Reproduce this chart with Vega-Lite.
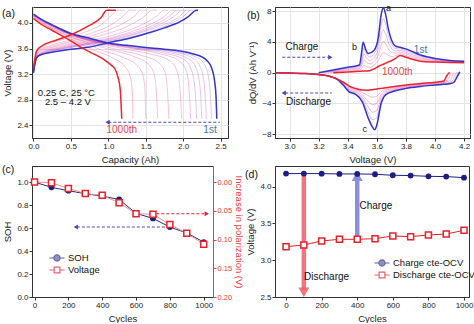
{
  "$schema": "https://vega.github.io/schema/vega-lite/v6.json",
  "padding": {"left": 1, "top": 3, "right": 0, "bottom": 0},
  "autosize": {"type": "pad"},
  "columns": 2,
  "spacing": {"row": 28, "column": 47},
  "bounds": "flush",
  "resolve": {
    "scale": {"color": "independent", "shape": "independent", "fill": "independent", "stroke": "independent"},
    "legend": {"color": "independent", "shape": "independent", "fill": "independent", "stroke": "independent"}
  },
  "datasets": {
    "cap": [
      {"n":0,"m":"d","q":0,"v":4.14},{"n":0,"m":"d","q":0.1,"v":4.06},{"n":0,"m":"d","q":0.25,"v":3.97},{"n":0,"m":"d","q":0.49,"v":3.84},{"n":0,"m":"d","q":0.75,"v":3.76},{"n":0,"m":"d","q":0.98,"v":3.69},{"n":0,"m":"d","q":1.25,"v":3.65},{"n":0,"m":"d","q":1.47,"v":3.62},{"n":0,"m":"d","q":1.75,"v":3.59},{"n":0,"m":"d","q":1.96,"v":3.56},{"n":0,"m":"d","q":2.15,"v":3.51},{"n":0,"m":"d","q":2.25,"v":3.47},{"n":0,"m":"d","q":2.32,"v":3.41},{"n":0,"m":"d","q":2.38,"v":3.3},{"n":0,"m":"d","q":2.42,"v":3.1},{"n":0,"m":"d","q":2.44,"v":2.85},{"n":0,"m":"d","q":2.45,"v":2.5},
      {"n":0,"m":"c","q":0,"v":3.22},{"n":0,"m":"c","q":0.03,"v":3.42},{"n":0,"m":"c","q":0.06,"v":3.48},{"n":0,"m":"c","q":0.15,"v":3.52},{"n":0,"m":"c","q":0.28,"v":3.55},{"n":0,"m":"c","q":0.5,"v":3.59},{"n":0,"m":"c","q":0.73,"v":3.62},{"n":0,"m":"c","q":1.0,"v":3.69},{"n":0,"m":"c","q":1.31,"v":3.77},{"n":0,"m":"c","q":1.5,"v":3.83},{"n":0,"m":"c","q":1.74,"v":3.92},{"n":0,"m":"c","q":1.96,"v":4.02},{"n":0,"m":"c","q":2.07,"v":4.1},{"n":0,"m":"c","q":2.18,"v":4.2},{"n":0,"m":"c","q":2.2,"v":4.2},
      {"n":1,"m":"d","q":0,"v":4.13},{"n":1,"m":"d","q":0.48,"v":3.84},{"n":1,"m":"d","q":0.95,"v":3.69},{"n":1,"m":"d","q":1.43,"v":3.62},{"n":1,"m":"d","q":1.9,"v":3.55},{"n":1,"m":"d","q":2.19,"v":3.46},{"n":1,"m":"d","q":2.31,"v":3.29},{"n":1,"m":"d","q":2.36,"v":2.95},{"n":1,"m":"d","q":2.38,"v":2.5},
      {"n":2,"m":"d","q":0,"v":4.12},{"n":2,"m":"d","q":0.46,"v":3.85},{"n":2,"m":"d","q":0.92,"v":3.7},{"n":2,"m":"d","q":1.39,"v":3.61},{"n":2,"m":"d","q":1.85,"v":3.55},{"n":2,"m":"d","q":2.13,"v":3.45},{"n":2,"m":"d","q":2.24,"v":3.28},{"n":2,"m":"d","q":2.29,"v":2.95},{"n":2,"m":"d","q":2.31,"v":2.5},
      {"n":3,"m":"d","q":0,"v":4.12},{"n":3,"m":"d","q":0.45,"v":3.85},{"n":3,"m":"d","q":0.9,"v":3.7},{"n":3,"m":"d","q":1.35,"v":3.61},{"n":3,"m":"d","q":1.8,"v":3.54},{"n":3,"m":"d","q":2.07,"v":3.44},{"n":3,"m":"d","q":2.18,"v":3.28},{"n":3,"m":"d","q":2.23,"v":2.95},{"n":3,"m":"d","q":2.25,"v":2.5},
      {"n":4,"m":"d","q":0,"v":4.11},{"n":4,"m":"d","q":0.44,"v":3.85},{"n":4,"m":"d","q":0.87,"v":3.7},{"n":4,"m":"d","q":1.31,"v":3.61},{"n":4,"m":"d","q":1.74,"v":3.53},{"n":4,"m":"d","q":2.01,"v":3.43},{"n":4,"m":"d","q":2.11,"v":3.27},{"n":4,"m":"d","q":2.16,"v":2.95},{"n":4,"m":"d","q":2.18,"v":2.5},
      {"n":5,"m":"d","q":0,"v":4.11},{"n":5,"m":"d","q":0.42,"v":3.85},{"n":5,"m":"d","q":0.84,"v":3.7},{"n":5,"m":"d","q":1.26,"v":3.61},{"n":5,"m":"d","q":1.68,"v":3.52},{"n":5,"m":"d","q":1.93,"v":3.42},{"n":5,"m":"d","q":2.04,"v":3.26},{"n":5,"m":"d","q":2.08,"v":2.95},{"n":5,"m":"d","q":2.1,"v":2.5},
      {"n":6,"m":"d","q":0,"v":4.1},{"n":6,"m":"d","q":0.4,"v":3.86},{"n":6,"m":"d","q":0.79,"v":3.71},{"n":6,"m":"d","q":1.19,"v":3.6},{"n":6,"m":"d","q":1.58,"v":3.51},{"n":6,"m":"d","q":1.82,"v":3.41},{"n":6,"m":"d","q":1.92,"v":3.24},{"n":6,"m":"d","q":1.96,"v":2.95},{"n":6,"m":"d","q":1.98,"v":2.5},
      {"n":7,"m":"d","q":0,"v":4.09},{"n":7,"m":"d","q":0.36,"v":3.87},{"n":7,"m":"d","q":0.72,"v":3.72},{"n":7,"m":"d","q":1.09,"v":3.59},{"n":7,"m":"d","q":1.45,"v":3.49},{"n":7,"m":"d","q":1.67,"v":3.38},{"n":7,"m":"d","q":1.76,"v":3.22},{"n":7,"m":"d","q":1.79,"v":2.95},{"n":7,"m":"d","q":1.81,"v":2.5},
      {"n":8,"m":"d","q":0,"v":4.08},{"n":8,"m":"d","q":0.33,"v":3.87},{"n":8,"m":"d","q":0.66,"v":3.72},{"n":8,"m":"d","q":1.0,"v":3.59},{"n":8,"m":"d","q":1.33,"v":3.48},{"n":8,"m":"d","q":1.53,"v":3.36},{"n":8,"m":"d","q":1.61,"v":3.21},{"n":8,"m":"d","q":1.64,"v":2.95},{"n":8,"m":"d","q":1.66,"v":2.5},
      {"n":9,"m":"d","q":0,"v":4.07},{"n":9,"m":"d","q":0.3,"v":3.88},{"n":9,"m":"d","q":0.6,"v":3.73},{"n":9,"m":"d","q":0.9,"v":3.58},{"n":9,"m":"d","q":1.2,"v":3.46},{"n":9,"m":"d","q":1.38,"v":3.34},{"n":9,"m":"d","q":1.46,"v":3.19},{"n":9,"m":"d","q":1.49,"v":2.95},{"n":9,"m":"d","q":1.5,"v":2.5},
      {"n":10,"m":"d","q":0,"v":4.06},{"n":10,"m":"d","q":0.27,"v":3.88},{"n":10,"m":"d","q":0.53,"v":3.73},{"n":10,"m":"d","q":0.8,"v":3.58},{"n":10,"m":"d","q":1.06,"v":3.45},{"n":10,"m":"d","q":1.22,"v":3.32},{"n":10,"m":"d","q":1.29,"v":3.17},{"n":10,"m":"d","q":1.32,"v":2.95},{"n":10,"m":"d","q":1.33,"v":2.5},
      {"n":1,"m":"c","q":0,"v":3.22},{"n":1,"m":"c","q":0.04,"v":3.45},{"n":1,"m":"c","q":0.11,"v":3.5},{"n":1,"m":"c","q":0.42,"v":3.6},{"n":1,"m":"c","q":0.84,"v":3.68},{"n":1,"m":"c","q":1.27,"v":3.77},{"n":1,"m":"c","q":1.69,"v":3.92},{"n":1,"m":"c","q":2.0,"v":4.1},{"n":1,"m":"c","q":2.11,"v":4.2},{"n":1,"m":"c","q":2.14,"v":4.2},
      {"n":2,"m":"c","q":0,"v":3.23},{"n":2,"m":"c","q":0.04,"v":3.45},{"n":2,"m":"c","q":0.1,"v":3.51},{"n":2,"m":"c","q":0.41,"v":3.6},{"n":2,"m":"c","q":0.82,"v":3.68},{"n":2,"m":"c","q":1.23,"v":3.78},{"n":2,"m":"c","q":1.64,"v":3.93},{"n":2,"m":"c","q":1.95,"v":4.1},{"n":2,"m":"c","q":2.05,"v":4.2},{"n":2,"m":"c","q":2.09,"v":4.2},
      {"n":3,"m":"c","q":0,"v":3.23},{"n":3,"m":"c","q":0.04,"v":3.45},{"n":3,"m":"c","q":0.1,"v":3.51},{"n":3,"m":"c","q":0.4,"v":3.61},{"n":3,"m":"c","q":0.8,"v":3.69},{"n":3,"m":"c","q":1.19,"v":3.78},{"n":3,"m":"c","q":1.59,"v":3.93},{"n":3,"m":"c","q":1.89,"v":4.11},{"n":3,"m":"c","q":1.99,"v":4.2},{"n":3,"m":"c","q":2.03,"v":4.2},
      {"n":4,"m":"c","q":0,"v":3.24},{"n":4,"m":"c","q":0.04,"v":3.45},{"n":4,"m":"c","q":0.1,"v":3.52},{"n":4,"m":"c","q":0.38,"v":3.61},{"n":4,"m":"c","q":0.77,"v":3.69},{"n":4,"m":"c","q":1.15,"v":3.79},{"n":4,"m":"c","q":1.54,"v":3.93},{"n":4,"m":"c","q":1.82,"v":4.11},{"n":4,"m":"c","q":1.92,"v":4.2},{"n":4,"m":"c","q":1.96,"v":4.2},
      {"n":5,"m":"c","q":0,"v":3.24},{"n":5,"m":"c","q":0.04,"v":3.45},{"n":5,"m":"c","q":0.09,"v":3.52},{"n":5,"m":"c","q":0.37,"v":3.62},{"n":5,"m":"c","q":0.74,"v":3.7},{"n":5,"m":"c","q":1.11,"v":3.79},{"n":5,"m":"c","q":1.48,"v":3.94},{"n":5,"m":"c","q":1.76,"v":4.11},{"n":5,"m":"c","q":1.85,"v":4.2},{"n":5,"m":"c","q":1.9,"v":4.2},
      {"n":6,"m":"c","q":0,"v":3.25},{"n":6,"m":"c","q":0.03,"v":3.45},{"n":6,"m":"c","q":0.09,"v":3.53},{"n":6,"m":"c","q":0.35,"v":3.63},{"n":6,"m":"c","q":0.7,"v":3.71},{"n":6,"m":"c","q":1.04,"v":3.8},{"n":6,"m":"c","q":1.39,"v":3.94},{"n":6,"m":"c","q":1.65,"v":4.11},{"n":6,"m":"c","q":1.74,"v":4.2},{"n":6,"m":"c","q":1.8,"v":4.2},
      {"n":7,"m":"c","q":0,"v":3.26},{"n":7,"m":"c","q":0.03,"v":3.45},{"n":7,"m":"c","q":0.08,"v":3.54},{"n":7,"m":"c","q":0.32,"v":3.64},{"n":7,"m":"c","q":0.63,"v":3.72},{"n":7,"m":"c","q":0.95,"v":3.82},{"n":7,"m":"c","q":1.26,"v":3.95},{"n":7,"m":"c","q":1.5,"v":4.12},{"n":7,"m":"c","q":1.58,"v":4.2},{"n":7,"m":"c","q":1.65,"v":4.2},
      {"n":8,"m":"c","q":0,"v":3.27},{"n":8,"m":"c","q":0.03,"v":3.45},{"n":8,"m":"c","q":0.07,"v":3.55},{"n":8,"m":"c","q":0.29,"v":3.65},{"n":8,"m":"c","q":0.57,"v":3.73},{"n":8,"m":"c","q":0.86,"v":3.83},{"n":8,"m":"c","q":1.14,"v":3.96},{"n":8,"m":"c","q":1.36,"v":4.12},{"n":8,"m":"c","q":1.43,"v":4.2},{"n":8,"m":"c","q":1.51,"v":4.2},
      {"n":9,"m":"c","q":0,"v":3.28},{"n":9,"m":"c","q":0.03,"v":3.45},{"n":9,"m":"c","q":0.06,"v":3.56},{"n":9,"m":"c","q":0.26,"v":3.66},{"n":9,"m":"c","q":0.51,"v":3.74},{"n":9,"m":"c","q":0.77,"v":3.84},{"n":9,"m":"c","q":1.02,"v":3.96},{"n":9,"m":"c","q":1.22,"v":4.13},{"n":9,"m":"c","q":1.28,"v":4.2},{"n":9,"m":"c","q":1.37,"v":4.2},
      {"n":10,"m":"c","q":0,"v":3.29},{"n":10,"m":"c","q":0.02,"v":3.45},{"n":10,"m":"c","q":0.06,"v":3.57},{"n":10,"m":"c","q":0.22,"v":3.68},{"n":10,"m":"c","q":0.45,"v":3.76},{"n":10,"m":"c","q":0.67,"v":3.85},{"n":10,"m":"c","q":0.9,"v":3.97},{"n":10,"m":"c","q":1.06,"v":4.14},{"n":10,"m":"c","q":1.12,"v":4.2},{"n":10,"m":"c","q":1.22,"v":4.2},
      {"n":11,"m":"d","q":0,"v":4.07},{"n":11,"m":"d","q":0.1,"v":3.98},{"n":11,"m":"d","q":0.24,"v":3.89},{"n":11,"m":"d","q":0.47,"v":3.74},{"n":11,"m":"d","q":0.71,"v":3.57},{"n":11,"m":"d","q":0.94,"v":3.43},{"n":11,"m":"d","q":1.04,"v":3.34},{"n":11,"m":"d","q":1.09,"v":3.28},{"n":11,"m":"d","q":1.13,"v":3.15},{"n":11,"m":"d","q":1.16,"v":2.95},{"n":11,"m":"d","q":1.18,"v":2.5},
      {"n":11,"m":"c","q":0,"v":3.3},{"n":11,"m":"c","q":0.02,"v":3.45},{"n":11,"m":"c","q":0.04,"v":3.56},{"n":11,"m":"c","q":0.11,"v":3.64},{"n":11,"m":"c","q":0.3,"v":3.73},{"n":11,"m":"c","q":0.51,"v":3.82},{"n":11,"m":"c","q":0.73,"v":3.95},{"n":11,"m":"c","q":0.9,"v":4.08},{"n":11,"m":"c","q":0.98,"v":4.2},{"n":11,"m":"c","q":1.1,"v":4.2}
    ],
    "dqdv": [
      {"n":0,"m":"c","v":3.2,"g":0},{"n":0,"m":"c","v":3.3,"g":0.35},{"n":0,"m":"c","v":3.4,"g":0.7},{"n":0,"m":"c","v":3.48,"g":1.0},{"n":0,"m":"c","v":3.495,"g":2.6},{"n":0,"m":"c","v":3.505,"g":3.96},{"n":0,"m":"c","v":3.52,"g":3.2},{"n":0,"m":"c","v":3.54,"g":2.5},{"n":0,"m":"c","v":3.58,"g":2.9},{"n":0,"m":"c","v":3.61,"g":4.6},{"n":0,"m":"c","v":3.63,"g":7.6},{"n":0,"m":"c","v":3.645,"g":8.5},{"n":0,"m":"c","v":3.66,"g":7.6},{"n":0,"m":"c","v":3.68,"g":5.6},{"n":0,"m":"c","v":3.7,"g":4.3},{"n":0,"m":"c","v":3.73,"g":3.44},{"n":0,"m":"c","v":3.76,"g":3.3},{"n":0,"m":"c","v":3.8,"g":3.1},{"n":0,"m":"c","v":3.9,"g":2.3},{"n":0,"m":"c","v":4.0,"g":1.85},{"n":0,"m":"c","v":4.1,"g":1.6},{"n":0,"m":"c","v":4.2,"g":1.5},
      {"n":1,"m":"c","v":3.22,"g":0},{"n":1,"m":"c","v":3.3,"g":0.28},{"n":1,"m":"c","v":3.4,"g":0.58},{"n":1,"m":"c","v":3.48,"g":0.83},{"n":1,"m":"c","v":3.5,"g":2.12},{"n":1,"m":"c","v":3.51,"g":3.21},{"n":1,"m":"c","v":3.53,"g":2.44},{"n":1,"m":"c","v":3.55,"g":2.05},{"n":1,"m":"c","v":3.58,"g":2.42},{"n":1,"m":"c","v":3.61,"g":3.84},{"n":1,"m":"c","v":3.63,"g":6.28},{"n":1,"m":"c","v":3.645,"g":7.02},{"n":1,"m":"c","v":3.66,"g":6.33},{"n":1,"m":"c","v":3.68,"g":4.76},{"n":1,"m":"c","v":3.7,"g":3.75},{"n":1,"m":"c","v":3.73,"g":3.13},{"n":1,"m":"c","v":3.76,"g":3.09},{"n":1,"m":"c","v":3.8,"g":2.88},{"n":1,"m":"c","v":3.9,"g":2.14},{"n":1,"m":"c","v":4.0,"g":1.76},{"n":1,"m":"c","v":4.1,"g":1.54},{"n":1,"m":"c","v":4.2,"g":1.46},
      {"n":2,"m":"c","v":3.24,"g":0},{"n":2,"m":"c","v":3.3,"g":0.21},{"n":2,"m":"c","v":3.4,"g":0.46},{"n":2,"m":"c","v":3.48,"g":0.67},{"n":2,"m":"c","v":3.5,"g":1.64},{"n":2,"m":"c","v":3.51,"g":2.46},{"n":2,"m":"c","v":3.53,"g":1.89},{"n":2,"m":"c","v":3.55,"g":1.6},{"n":2,"m":"c","v":3.58,"g":1.94},{"n":2,"m":"c","v":3.61,"g":3.08},{"n":2,"m":"c","v":3.63,"g":4.96},{"n":2,"m":"c","v":3.645,"g":5.54},{"n":2,"m":"c","v":3.66,"g":5.06},{"n":2,"m":"c","v":3.68,"g":3.92},{"n":2,"m":"c","v":3.7,"g":3.2},{"n":2,"m":"c","v":3.73,"g":2.82},{"n":2,"m":"c","v":3.76,"g":2.88},{"n":2,"m":"c","v":3.8,"g":2.66},{"n":2,"m":"c","v":3.9,"g":1.98},{"n":2,"m":"c","v":4.0,"g":1.66},{"n":2,"m":"c","v":4.1,"g":1.49},{"n":2,"m":"c","v":4.2,"g":1.42},
      {"n":3,"m":"c","v":3.26,"g":0},{"n":3,"m":"c","v":3.3,"g":0.14},{"n":3,"m":"c","v":3.4,"g":0.34},{"n":3,"m":"c","v":3.48,"g":0.5},{"n":3,"m":"c","v":3.5,"g":1.16},{"n":3,"m":"c","v":3.51,"g":1.7},{"n":3,"m":"c","v":3.53,"g":1.33},{"n":3,"m":"c","v":3.55,"g":1.15},{"n":3,"m":"c","v":3.58,"g":1.46},{"n":3,"m":"c","v":3.61,"g":2.32},{"n":3,"m":"c","v":3.63,"g":3.64},{"n":3,"m":"c","v":3.645,"g":4.06},{"n":3,"m":"c","v":3.66,"g":3.79},{"n":3,"m":"c","v":3.68,"g":3.08},{"n":3,"m":"c","v":3.7,"g":2.65},{"n":3,"m":"c","v":3.73,"g":2.52},{"n":3,"m":"c","v":3.76,"g":2.67},{"n":3,"m":"c","v":3.8,"g":2.44},{"n":3,"m":"c","v":3.9,"g":1.82},{"n":3,"m":"c","v":4.0,"g":1.57},{"n":3,"m":"c","v":4.1,"g":1.43},{"n":3,"m":"c","v":4.2,"g":1.38},
      {"n":4,"m":"c","v":3.28,"g":0},{"n":4,"m":"c","v":3.3,"g":0.07},{"n":4,"m":"c","v":3.4,"g":0.22},{"n":4,"m":"c","v":3.48,"g":0.34},{"n":4,"m":"c","v":3.5,"g":0.68},{"n":4,"m":"c","v":3.51,"g":0.95},{"n":4,"m":"c","v":3.53,"g":0.78},{"n":4,"m":"c","v":3.55,"g":0.7},{"n":4,"m":"c","v":3.58,"g":0.98},{"n":4,"m":"c","v":3.61,"g":1.56},{"n":4,"m":"c","v":3.63,"g":2.32},{"n":4,"m":"c","v":3.645,"g":2.58},{"n":4,"m":"c","v":3.66,"g":2.52},{"n":4,"m":"c","v":3.68,"g":2.24},{"n":4,"m":"c","v":3.7,"g":2.1},{"n":4,"m":"c","v":3.73,"g":2.21},{"n":4,"m":"c","v":3.76,"g":2.46},{"n":4,"m":"c","v":3.8,"g":2.22},{"n":4,"m":"c","v":3.9,"g":1.66},{"n":4,"m":"c","v":4.0,"g":1.47},{"n":4,"m":"c","v":4.1,"g":1.38},{"n":4,"m":"c","v":4.2,"g":1.34},
      {"n":5,"m":"c","v":3.3,"g":0},{"n":5,"m":"c","v":3.4,"g":0.1},{"n":5,"m":"c","v":3.48,"g":0.17},{"n":5,"m":"c","v":3.5,"g":0.2},{"n":5,"m":"c","v":3.51,"g":0.2},{"n":5,"m":"c","v":3.53,"g":0.22},{"n":5,"m":"c","v":3.55,"g":0.25},{"n":5,"m":"c","v":3.58,"g":0.5},{"n":5,"m":"c","v":3.61,"g":0.8},{"n":5,"m":"c","v":3.63,"g":1.0},{"n":5,"m":"c","v":3.645,"g":1.1},{"n":5,"m":"c","v":3.66,"g":1.25},{"n":5,"m":"c","v":3.68,"g":1.4},{"n":5,"m":"c","v":3.7,"g":1.55},{"n":5,"m":"c","v":3.73,"g":1.9},{"n":5,"m":"c","v":3.76,"g":2.25},{"n":5,"m":"c","v":3.8,"g":2.0},{"n":5,"m":"c","v":3.9,"g":1.5},{"n":5,"m":"c","v":4.0,"g":1.38},{"n":5,"m":"c","v":4.1,"g":1.32},{"n":5,"m":"c","v":4.2,"g":1.3},
      {"n":0,"m":"d","v":2.9,"g":0},{"n":0,"m":"d","v":3.0,"g":-0.03},{"n":0,"m":"d","v":3.1,"g":-0.1},{"n":0,"m":"d","v":3.2,"g":-0.25},{"n":0,"m":"d","v":3.28,"g":-0.5},{"n":0,"m":"d","v":3.33,"g":-0.9},{"n":0,"m":"d","v":3.37,"g":-1.65},{"n":0,"m":"d","v":3.41,"g":-2.5},{"n":0,"m":"d","v":3.45,"g":-2.8},{"n":0,"m":"d","v":3.5,"g":-3.8},{"n":0,"m":"d","v":3.54,"g":-5.9},{"n":0,"m":"d","v":3.57,"g":-7.1},{"n":0,"m":"d","v":3.585,"g":-7.45},{"n":0,"m":"d","v":3.6,"g":-6.8},{"n":0,"m":"d","v":3.63,"g":-4.0},{"n":0,"m":"d","v":3.66,"g":-2.9},{"n":0,"m":"d","v":3.72,"g":-2.4},{"n":0,"m":"d","v":3.8,"g":-2.05},{"n":0,"m":"d","v":3.9,"g":-1.8},{"n":0,"m":"d","v":4.0,"g":-1.62},{"n":0,"m":"d","v":4.06,"g":-1.52},{"n":0,"m":"d","v":4.1,"g":-1.45},{"n":0,"m":"d","v":4.13,"g":-1.25},{"n":0,"m":"d","v":4.15,"g":-0.6},{"n":0,"m":"d","v":4.17,"g":0.1},
      {"n":1,"m":"d","v":3.2,"g":-0.25},{"n":1,"m":"d","v":3.28,"g":-0.5},{"n":1,"m":"d","v":3.33,"g":-0.89},{"n":1,"m":"d","v":3.37,"g":-1.57},{"n":1,"m":"d","v":3.41,"g":-2.35},{"n":1,"m":"d","v":3.45,"g":-2.65},{"n":1,"m":"d","v":3.5,"g":-3.49},{"n":1,"m":"d","v":3.54,"g":-5.18},{"n":1,"m":"d","v":3.57,"g":-6.12},{"n":1,"m":"d","v":3.6,"g":-5.86},{"n":1,"m":"d","v":3.63,"g":-3.61},{"n":1,"m":"d","v":3.66,"g":-2.72},{"n":1,"m":"d","v":3.72,"g":-2.28},{"n":1,"m":"d","v":3.8,"g":-1.96},{"n":1,"m":"d","v":3.9,"g":-1.72},{"n":1,"m":"d","v":4.0,"g":-1.55},{"n":1,"m":"d","v":4.06,"g":-1.44},{"n":1,"m":"d","v":4.1,"g":-1.38},{"n":1,"m":"d","v":4.13,"g":-1.15},{"n":1,"m":"d","v":4.145,"g":-0.5},{"n":1,"m":"d","v":4.16,"g":0.08},
      {"n":2,"m":"d","v":3.2,"g":-0.25},{"n":2,"m":"d","v":3.28,"g":-0.5},{"n":2,"m":"d","v":3.33,"g":-0.88},{"n":2,"m":"d","v":3.37,"g":-1.49},{"n":2,"m":"d","v":3.41,"g":-2.2},{"n":2,"m":"d","v":3.45,"g":-2.5},{"n":2,"m":"d","v":3.5,"g":-3.19},{"n":2,"m":"d","v":3.54,"g":-4.45},{"n":2,"m":"d","v":3.57,"g":-5.15},{"n":2,"m":"d","v":3.6,"g":-4.93},{"n":2,"m":"d","v":3.63,"g":-3.22},{"n":2,"m":"d","v":3.66,"g":-2.53},{"n":2,"m":"d","v":3.72,"g":-2.16},{"n":2,"m":"d","v":3.8,"g":-1.87},{"n":2,"m":"d","v":3.9,"g":-1.65},{"n":2,"m":"d","v":4.0,"g":-1.47},{"n":2,"m":"d","v":4.06,"g":-1.35},{"n":2,"m":"d","v":4.1,"g":-1.28},{"n":2,"m":"d","v":4.12,"g":-1.05},{"n":2,"m":"d","v":4.135,"g":-0.4},{"n":2,"m":"d","v":4.15,"g":0.06},
      {"n":3,"m":"d","v":3.2,"g":-0.25},{"n":3,"m":"d","v":3.28,"g":-0.5},{"n":3,"m":"d","v":3.33,"g":-0.87},{"n":3,"m":"d","v":3.37,"g":-1.41},{"n":3,"m":"d","v":3.41,"g":-2.05},{"n":3,"m":"d","v":3.45,"g":-2.35},{"n":3,"m":"d","v":3.5,"g":-2.88},{"n":3,"m":"d","v":3.54,"g":-3.73},{"n":3,"m":"d","v":3.57,"g":-4.17},{"n":3,"m":"d","v":3.6,"g":-3.99},{"n":3,"m":"d","v":3.63,"g":-2.83},{"n":3,"m":"d","v":3.66,"g":-2.35},{"n":3,"m":"d","v":3.72,"g":-2.04},{"n":3,"m":"d","v":3.8,"g":-1.78},{"n":3,"m":"d","v":3.9,"g":-1.57},{"n":3,"m":"d","v":4.0,"g":-1.4},{"n":3,"m":"d","v":4.06,"g":-1.27},{"n":3,"m":"d","v":4.09,"g":-1.15},{"n":3,"m":"d","v":4.11,"g":-0.9},{"n":3,"m":"d","v":4.12,"g":-0.3},{"n":3,"m":"d","v":4.13,"g":0.05},
      {"n":4,"m":"d","v":3.2,"g":-0.25},{"n":4,"m":"d","v":3.28,"g":-0.5},{"n":4,"m":"d","v":3.33,"g":-0.86},{"n":4,"m":"d","v":3.37,"g":-1.33},{"n":4,"m":"d","v":3.41,"g":-1.9},{"n":4,"m":"d","v":3.45,"g":-2.2},{"n":4,"m":"d","v":3.5,"g":-2.58},{"n":4,"m":"d","v":3.54,"g":-3.0},{"n":4,"m":"d","v":3.57,"g":-3.2},{"n":4,"m":"d","v":3.6,"g":-3.06},{"n":4,"m":"d","v":3.63,"g":-2.44},{"n":4,"m":"d","v":3.66,"g":-2.16},{"n":4,"m":"d","v":3.72,"g":-1.92},{"n":4,"m":"d","v":3.8,"g":-1.69},{"n":4,"m":"d","v":3.9,"g":-1.5},{"n":4,"m":"d","v":4.0,"g":-1.32},{"n":4,"m":"d","v":4.06,"g":-1.18},{"n":4,"m":"d","v":4.08,"g":-1.05},{"n":4,"m":"d","v":4.095,"g":-0.7},{"n":4,"m":"d","v":4.105,"g":-0.2},{"n":4,"m":"d","v":4.115,"g":0.05},
      {"n":5,"m":"d","v":2.9,"g":0},{"n":5,"m":"d","v":3.0,"g":-0.03},{"n":5,"m":"d","v":3.1,"g":-0.1},{"n":5,"m":"d","v":3.2,"g":-0.25},{"n":5,"m":"d","v":3.28,"g":-0.5},{"n":5,"m":"d","v":3.33,"g":-0.85},{"n":5,"m":"d","v":3.37,"g":-1.25},{"n":5,"m":"d","v":3.41,"g":-1.75},{"n":5,"m":"d","v":3.45,"g":-2.05},{"n":5,"m":"d","v":3.5,"g":-2.27},{"n":5,"m":"d","v":3.54,"g":-2.28},{"n":5,"m":"d","v":3.57,"g":-2.22},{"n":5,"m":"d","v":3.6,"g":-2.12},{"n":5,"m":"d","v":3.63,"g":-2.05},{"n":5,"m":"d","v":3.66,"g":-1.98},{"n":5,"m":"d","v":3.72,"g":-1.8},{"n":5,"m":"d","v":3.8,"g":-1.6},{"n":5,"m":"d","v":3.9,"g":-1.42},{"n":5,"m":"d","v":4.0,"g":-1.25},{"n":5,"m":"d","v":4.06,"g":-1.1},{"n":5,"m":"d","v":4.08,"g":-0.4},{"n":5,"m":"d","v":4.1,"g":0.05}
    ],
    "soh": [
      {"cyc":0,"s":"SOH","y":1.0},{"cyc":100,"s":"SOH","y":0.954},{"cyc":200,"s":"SOH","y":0.925},{"cyc":300,"s":"SOH","y":0.899},{"cyc":400,"s":"SOH","y":0.878},{"cyc":500,"s":"SOH","y":0.849},{"cyc":600,"s":"SOH","y":0.728},{"cyc":700,"s":"SOH","y":0.684},{"cyc":800,"s":"SOH","y":0.609},{"cyc":900,"s":"SOH","y":0.557},{"cyc":1000,"s":"SOH","y":0.478},
      {"cyc":0,"s":"Voltage","y":0.0},{"cyc":100,"s":"Voltage","y":0.001},{"cyc":200,"s":"Voltage","y":0.011},{"cyc":300,"s":"Voltage","y":0.02},{"cyc":400,"s":"Voltage","y":0.023},{"cyc":500,"s":"Voltage","y":0.036},{"cyc":600,"s":"Voltage","y":0.055},{"cyc":700,"s":"Voltage","y":0.056},{"cyc":800,"s":"Voltage","y":0.074},{"cyc":900,"s":"Voltage","y":0.089},{"cyc":1000,"s":"Voltage","y":0.108}
    ],
    "ocv": [
      {"cyc":0,"s":"Charge cte-OCV","v":4.177},{"cyc":100,"s":"Charge cte-OCV","v":4.177},{"cyc":200,"s":"Charge cte-OCV","v":4.176},{"cyc":300,"s":"Charge cte-OCV","v":4.172},{"cyc":400,"s":"Charge cte-OCV","v":4.172},{"cyc":500,"s":"Charge cte-OCV","v":4.168},{"cyc":600,"s":"Charge cte-OCV","v":4.154},{"cyc":700,"s":"Charge cte-OCV","v":4.15},{"cyc":800,"s":"Charge cte-OCV","v":4.14},{"cyc":900,"s":"Charge cte-OCV","v":4.136},{"cyc":1000,"s":"Charge cte-OCV","v":4.122},
      {"cyc":0,"s":"Discharge cte-OCV","v":3.184},{"cyc":100,"s":"Discharge cte-OCV","v":3.207},{"cyc":200,"s":"Discharge cte-OCV","v":3.261},{"cyc":300,"s":"Discharge cte-OCV","v":3.284},{"cyc":400,"s":"Discharge cte-OCV","v":3.284},{"cyc":500,"s":"Discharge cte-OCV","v":3.293},{"cyc":600,"s":"Discharge cte-OCV","v":3.329},{"cyc":700,"s":"Discharge cte-OCV","v":3.32},{"cyc":800,"s":"Discharge cte-OCV","v":3.343},{"cyc":900,"s":"Discharge cte-OCV","v":3.356},{"cyc":1000,"s":"Discharge cte-OCV","v":3.406}
    ]
  },
  "concat": [
    {
      "width": 196, "height": 131,
      "data": {"name": "cap"},
      "layer": [
        {"transform": [{"filter": "datum.n > 0 && datum.n < 11"}],
         "mark": {"type": "line", "interpolate": "monotone", "strokeWidth": 0.8, "opacity": 0.3},
         "encoding": {
           "x": {"field": "q", "type": "quantitative", "scale": {"domain": [-0.02, 2.6], "nice": false, "zero": false}, "axis": {"title": "Capacity (Ah)", "values": [0, 0.5, 1, 1.5, 2, 2.5], "format": ".1f"}},
           "y": {"field": "v", "type": "quantitative", "scale": {"domain": [2.2, 4.25], "nice": false, "zero": false}, "axis": {"title": "Voltage (V)", "values": [2.4, 2.8, 3.2, 3.6, 4.0], "format": ".1f"}},
           "detail": {"field": "m"},
           "color": {"field": "n", "type": "quantitative", "scale": {"domain": [0, 11], "range": ["#3434c8", "#ec2330"]}, "legend": null}}},
        {"transform": [{"filter": "datum.n == 0 || datum.n == 11"}],
         "mark": {"type": "line", "interpolate": "monotone", "strokeWidth": 1.5},
         "encoding": {
           "x": {"field": "q", "type": "quantitative", "axis": {"title": "Capacity (Ah)", "values": [0, 0.5, 1, 1.5, 2, 2.5], "format": ".1f"}},
           "y": {"field": "v", "type": "quantitative", "axis": {"title": "Voltage (V)", "values": [2.4, 2.8, 3.2, 3.6, 4.0], "format": ".1f"}},
           "detail": {"field": "m"},
           "color": {"field": "n", "type": "quantitative", "legend": null}}},
        {"data": {"values": [{}]}, "mark": {"type": "rule", "strokeDash": [3, 2], "color": "#4646b0", "strokeWidth": 1.1},
         "encoding": {"x": {"datum": 1.0, "type": "quantitative", "axis": {"title": "Capacity (Ah)", "values": [0, 0.5, 1, 1.5, 2, 2.5], "format": ".1f"}}, "x2": {"datum": 2.49}, "y": {"datum": 2.447, "type": "quantitative", "axis": {"title": "Voltage (V)", "values": [2.4, 2.8, 3.2, 3.6, 4.0], "format": ".1f"}}}},
        {"data": {"values": [{}]}, "mark": {"type": "point", "shape": "triangle-left", "filled": true, "size": 24, "color": "#4646b0", "opacity": 1},
         "encoding": {"x": {"datum": 0.99, "type": "quantitative", "axis": {"title": "Capacity (Ah)", "values": [0, 0.5, 1, 1.5, 2, 2.5], "format": ".1f"}}, "y": {"datum": 2.447, "type": "quantitative", "axis": {"title": "Voltage (V)", "values": [2.4, 2.8, 3.2, 3.6, 4.0], "format": ".1f"}}}},
        {"data": {"values": [{}]}, "mark": {"type": "text", "fontSize": 9.5, "color": "#111"},
         "encoding": {"x": {"datum": 0.44, "type": "quantitative", "axis": {"title": "Capacity (Ah)", "values": [0, 0.5, 1, 1.5, 2, 2.5], "format": ".1f"}}, "y": {"datum": 2.9, "type": "quantitative", "axis": {"title": "Voltage (V)", "values": [2.4, 2.8, 3.2, 3.6, 4.0], "format": ".1f"}}, "text": {"value": "0.25 C, 25 °C"}}},
        {"data": {"values": [{}]}, "mark": {"type": "text", "fontSize": 9.5, "color": "#111"},
         "encoding": {"x": {"datum": 0.46, "type": "quantitative", "axis": {"title": "Capacity (Ah)", "values": [0, 0.5, 1, 1.5, 2, 2.5], "format": ".1f"}}, "y": {"datum": 2.76, "type": "quantitative", "axis": {"title": "Voltage (V)", "values": [2.4, 2.8, 3.2, 3.6, 4.0], "format": ".1f"}}, "text": {"value": "2.5 – 4.2 V"}}},
        {"data": {"values": [{}]}, "mark": {"type": "text", "fontSize": 10, "color": "#e8464c"},
         "encoding": {"x": {"datum": 1.18, "type": "quantitative", "axis": {"title": "Capacity (Ah)", "values": [0, 0.5, 1, 1.5, 2, 2.5], "format": ".1f"}}, "y": {"datum": 2.32, "type": "quantitative", "axis": {"title": "Voltage (V)", "values": [2.4, 2.8, 3.2, 3.6, 4.0], "format": ".1f"}}, "text": {"value": "1000th"}}},
        {"data": {"values": [{}]}, "mark": {"type": "text", "fontSize": 10, "color": "#4a70a8"},
         "encoding": {"x": {"datum": 2.36, "type": "quantitative", "axis": {"title": "Capacity (Ah)", "values": [0, 0.5, 1, 1.5, 2, 2.5], "format": ".1f"}}, "y": {"datum": 2.32, "type": "quantitative", "axis": {"title": "Voltage (V)", "values": [2.4, 2.8, 3.2, 3.6, 4.0], "format": ".1f"}}, "text": {"value": "1st"}}},
        {"data": {"values": [{}]}, "mark": {"type": "text", "fontSize": 10.5, "color": "#111", "align": "left"},
         "encoding": {"x": {"datum": -0.42, "type": "quantitative", "axis": {"title": "Capacity (Ah)", "values": [0, 0.5, 1, 1.5, 2, 2.5], "format": ".1f"}}, "y": {"datum": 4.14, "type": "quantitative", "axis": {"title": "Voltage (V)", "values": [2.4, 2.8, 3.2, 3.6, 4.0], "format": ".1f"}}, "text": {"value": "(a)"}}}
      ]
    },
    {
      "width": 195, "height": 131,
      "data": {"name": "dqdv"},
      "layer": [
        {"transform": [{"filter": "datum.n > 0 && datum.n < 5"}],
         "mark": {"type": "line", "interpolate": "monotone", "strokeWidth": 0.8, "opacity": 0.35},
         "encoding": {
           "x": {"field": "v", "type": "quantitative", "scale": {"domain": [2.9, 4.24], "nice": false, "zero": false}, "axis": {"title": "Voltage (V)", "values": [3.0, 3.2, 3.4, 3.6, 3.8, 4.0, 4.2], "format": ".1f"}},
           "y": {"field": "g", "type": "quantitative", "scale": {"domain": [-8.52, 8.56], "nice": false, "zero": false}, "axis": {"title": "dQ/dV (Ah V⁻¹)", "values": [-8, -4, 0, 4, 8], "format": "d"}},
           "detail": {"field": "m"},
           "color": {"field": "n", "type": "quantitative", "scale": {"domain": [0, 5], "range": ["#3434c8", "#ec2330"]}, "legend": null}}},
        {"transform": [{"filter": "datum.n == 0 || datum.n == 5"}],
         "mark": {"type": "line", "interpolate": "monotone", "strokeWidth": 1.5},
         "encoding": {
           "x": {"field": "v", "type": "quantitative", "axis": {"title": "Voltage (V)", "values": [3.0, 3.2, 3.4, 3.6, 3.8, 4.0, 4.2], "format": ".1f"}},
           "y": {"field": "g", "type": "quantitative", "axis": {"title": "dQ/dV (Ah V⁻¹)", "values": [-8, -4, 0, 4, 8], "format": "d"}},
           "detail": {"field": "m"},
           "color": {"field": "n", "type": "quantitative", "legend": null}}},
        {"data": {"values": [{}]}, "mark": {"type": "rule", "strokeDash": [3, 2], "color": "#4646b0", "strokeWidth": 1.1},
         "encoding": {"x": {"datum": 2.95, "type": "quantitative", "axis": {"title": "Voltage (V)", "values": [3.0, 3.2, 3.4, 3.6, 3.8, 4.0, 4.2], "format": ".1f"}}, "x2": {"datum": 3.27}, "y": {"datum": 2.0, "type": "quantitative", "axis": {"title": "dQ/dV (Ah V⁻¹)", "values": [-8, -4, 0, 4, 8], "format": "d"}}}},
        {"data": {"values": [{}]}, "mark": {"type": "point", "shape": "triangle-right", "filled": true, "size": 24, "color": "#4646b0", "opacity": 1},
         "encoding": {"x": {"datum": 3.28, "type": "quantitative", "axis": {"title": "Voltage (V)", "values": [3.0, 3.2, 3.4, 3.6, 3.8, 4.0, 4.2], "format": ".1f"}}, "y": {"datum": 2.0, "type": "quantitative", "axis": {"title": "dQ/dV (Ah V⁻¹)", "values": [-8, -4, 0, 4, 8], "format": "d"}}}},
        {"data": {"values": [{}]}, "mark": {"type": "rule", "strokeDash": [3, 2], "color": "#4646b0", "strokeWidth": 1.1},
         "encoding": {"x": {"datum": 2.97, "type": "quantitative", "axis": {"title": "Voltage (V)", "values": [3.0, 3.2, 3.4, 3.6, 3.8, 4.0, 4.2], "format": ".1f"}}, "x2": {"datum": 3.29}, "y": {"datum": -2.65, "type": "quantitative", "axis": {"title": "dQ/dV (Ah V⁻¹)", "values": [-8, -4, 0, 4, 8], "format": "d"}}}},
        {"data": {"values": [{}]}, "mark": {"type": "point", "shape": "triangle-left", "filled": true, "size": 24, "color": "#4646b0", "opacity": 1},
         "encoding": {"x": {"datum": 2.96, "type": "quantitative", "axis": {"title": "Voltage (V)", "values": [3.0, 3.2, 3.4, 3.6, 3.8, 4.0, 4.2], "format": ".1f"}}, "y": {"datum": -2.65, "type": "quantitative", "axis": {"title": "dQ/dV (Ah V⁻¹)", "values": [-8, -4, 0, 4, 8], "format": "d"}}}},
        {"data": {"values": [{}]}, "mark": {"type": "text", "fontSize": 10, "color": "#111"},
         "encoding": {"x": {"datum": 3.085, "type": "quantitative", "axis": {"title": "Voltage (V)", "values": [3.0, 3.2, 3.4, 3.6, 3.8, 4.0, 4.2], "format": ".1f"}}, "y": {"datum": 3.3, "type": "quantitative", "axis": {"title": "dQ/dV (Ah V⁻¹)", "values": [-8, -4, 0, 4, 8], "format": "d"}}, "text": {"value": "Charge"}}},
        {"data": {"values": [{}]}, "mark": {"type": "text", "fontSize": 10, "color": "#111"},
         "encoding": {"x": {"datum": 3.13, "type": "quantitative", "axis": {"title": "Voltage (V)", "values": [3.0, 3.2, 3.4, 3.6, 3.8, 4.0, 4.2], "format": ".1f"}}, "y": {"datum": -3.85, "type": "quantitative", "axis": {"title": "dQ/dV (Ah V⁻¹)", "values": [-8, -4, 0, 4, 8], "format": "d"}}, "text": {"value": "Discharge"}}},
        {"data": {"values": [{}]}, "mark": {"type": "text", "fontSize": 10, "color": "#4a70a8"},
         "encoding": {"x": {"datum": 3.9, "type": "quantitative", "axis": {"title": "Voltage (V)", "values": [3.0, 3.2, 3.4, 3.6, 3.8, 4.0, 4.2], "format": ".1f"}}, "y": {"datum": 3.0, "type": "quantitative", "axis": {"title": "dQ/dV (Ah V⁻¹)", "values": [-8, -4, 0, 4, 8], "format": "d"}}, "text": {"value": "1st"}}},
        {"data": {"values": [{}]}, "mark": {"type": "text", "fontSize": 10, "color": "#e8464c"},
         "encoding": {"x": {"datum": 3.74, "type": "quantitative", "axis": {"title": "Voltage (V)", "values": [3.0, 3.2, 3.4, 3.6, 3.8, 4.0, 4.2], "format": ".1f"}}, "y": {"datum": 0.05, "type": "quantitative", "axis": {"title": "dQ/dV (Ah V⁻¹)", "values": [-8, -4, 0, 4, 8], "format": "d"}}, "text": {"value": "1000th"}}},
        {"data": {"values": [{}]}, "mark": {"type": "text", "fontSize": 9, "color": "#111"},
         "encoding": {"x": {"datum": 3.68, "type": "quantitative", "axis": {"title": "Voltage (V)", "values": [3.0, 3.2, 3.4, 3.6, 3.8, 4.0, 4.2], "format": ".1f"}}, "y": {"datum": 8.4, "type": "quantitative", "axis": {"title": "dQ/dV (Ah V⁻¹)", "values": [-8, -4, 0, 4, 8], "format": "d"}}, "text": {"value": "a"}}},
        {"data": {"values": [{}]}, "mark": {"type": "text", "fontSize": 9, "color": "#111"},
         "encoding": {"x": {"datum": 3.447, "type": "quantitative", "axis": {"title": "Voltage (V)", "values": [3.0, 3.2, 3.4, 3.6, 3.8, 4.0, 4.2], "format": ".1f"}}, "y": {"datum": 3.4, "type": "quantitative", "axis": {"title": "dQ/dV (Ah V⁻¹)", "values": [-8, -4, 0, 4, 8], "format": "d"}}, "text": {"value": "b"}}},
        {"data": {"values": [{}]}, "mark": {"type": "text", "fontSize": 9, "color": "#111"},
         "encoding": {"x": {"datum": 3.516, "type": "quantitative", "axis": {"title": "Voltage (V)", "values": [3.0, 3.2, 3.4, 3.6, 3.8, 4.0, 4.2], "format": ".1f"}}, "y": {"datum": -7.35, "type": "quantitative", "axis": {"title": "dQ/dV (Ah V⁻¹)", "values": [-8, -4, 0, 4, 8], "format": "d"}}, "text": {"value": "c"}}},
        {"data": {"values": [{}]}, "mark": {"type": "text", "fontSize": 10.5, "color": "#111", "align": "left"},
         "encoding": {"x": {"datum": 2.707, "type": "quantitative", "axis": {"title": "Voltage (V)", "values": [3.0, 3.2, 3.4, 3.6, 3.8, 4.0, 4.2], "format": ".1f"}}, "y": {"datum": 7.35, "type": "quantitative", "axis": {"title": "dQ/dV (Ah V⁻¹)", "values": [-8, -4, 0, 4, 8], "format": "d"}}, "text": {"value": "(b)"}}}
      ]
    },
    {
      "width": 181, "height": 131,
      "data": {"name": "soh"},
      "layer": [
        {
          "layer": [
            {"data": {"values": [{}]}, "mark": {"type": "rule", "strokeDash": [3, 2], "color": "#4a4ab8", "strokeWidth": 1.1},
             "encoding": {"x": {"datum": 250, "type": "quantitative", "axis": {"title": "Cycles", "values": [0, 200, 400, 600, 800, 1000], "format": "d"}}, "x2": {"datum": 775}, "y": {"datum": 0.609, "type": "quantitative", "axis": {"title": "SOH", "values": [0, 0.2, 0.4, 0.6, 0.8, 1.0], "format": ".1f"}}}},
            {"data": {"values": [{}]}, "mark": {"type": "point", "shape": "triangle-left", "filled": true, "size": 24, "color": "#4a4ab8", "opacity": 1},
             "encoding": {"x": {"datum": 244, "type": "quantitative", "axis": {"title": "Cycles", "values": [0, 200, 400, 600, 800, 1000], "format": "d"}}, "y": {"datum": 0.609, "type": "quantitative", "axis": {"title": "SOH", "values": [0, 0.2, 0.4, 0.6, 0.8, 1.0], "format": ".1f"}}}},
            {"data": {"values": [{}]}, "mark": {"type": "rule", "strokeDash": [3, 2], "color": "#e8202a", "strokeWidth": 1.1},
             "encoding": {"x": {"datum": 720, "type": "quantitative", "axis": {"title": "Cycles", "values": [0, 200, 400, 600, 800, 1000], "format": "d"}}, "x2": {"datum": 1012}, "y": {"datum": 0.725, "type": "quantitative", "axis": {"title": "SOH", "values": [0, 0.2, 0.4, 0.6, 0.8, 1.0], "format": ".1f"}}}},
            {"data": {"values": [{}]}, "mark": {"type": "point", "shape": "triangle-right", "filled": true, "size": 24, "color": "#e8202a", "opacity": 1},
             "encoding": {"x": {"datum": 1018, "type": "quantitative", "axis": {"title": "Cycles", "values": [0, 200, 400, 600, 800, 1000], "format": "d"}}, "y": {"datum": 0.725, "type": "quantitative", "axis": {"title": "SOH", "values": [0, 0.2, 0.4, 0.6, 0.8, 1.0], "format": ".1f"}}}},
            {"transform": [{"filter": "datum.s == 'SOH'"}],
             "mark": {"type": "line", "color": "#2a2a80", "strokeWidth": 1},
             "encoding": {
               "x": {"field": "cyc", "type": "quantitative", "scale": {"domain": [-15, 1055], "nice": false, "zero": false}, "axis": {"title": "Cycles", "values": [0, 200, 400, 600, 800, 1000], "format": "d"}},
               "y": {"field": "y", "type": "quantitative", "scale": {"domain": [0, 1.14], "nice": false, "zero": false}, "axis": {"title": "SOH", "values": [0, 0.2, 0.4, 0.6, 0.8, 1.0], "format": ".1f"}}
             }},
            {"transform": [{"filter": "datum.s == 'SOH'"}],
             "mark": {"type": "point", "shape": "circle", "filled": true, "size": 34, "color": "#1e1e82", "opacity": 1},
             "encoding": {
               "x": {"field": "cyc", "type": "quantitative", "axis": {"title": "Cycles", "values": [0, 200, 400, 600, 800, 1000], "format": "d"}},
               "y": {"field": "y", "type": "quantitative", "axis": {"title": "SOH", "values": [0, 0.2, 0.4, 0.6, 0.8, 1.0], "format": ".1f"}}}},
            {"transform": [{"filter": "false"}],
             "mark": {"type": "point", "filled": true},
             "encoding": {
               "shape": {"field": "s", "type": "nominal", "scale": {"domain": ["SOH", "Voltage"], "range": ["M-1.5,0H-0.62M0.62,0H1.5M0.62,0A0.62,0.62,0,1,1,-0.62,0A0.62,0.62,0,1,1,0.62,0Z", "M-1.5,0H-0.58M0.58,0H1.5M-0.58,-0.58H0.58V0.58H-0.58Z"]},
                 "legend": {"orient": "none", "legendX": 19, "legendY": 86, "title": null, "labelFontSize": 9.5, "labelColor": "#111", "symbolStrokeWidth": 1.2, "symbolSize": 100, "padding": 0, "rowPadding": 0, "labelOffset": 5}},
               "fill": {"field": "s", "type": "nominal", "scale": {"domain": ["SOH", "Voltage"], "range": ["#1e1e82", "#ffffff"]}},
               "stroke": {"field": "s", "type": "nominal", "scale": {"domain": ["SOH", "Voltage"], "range": ["#1e1e82", "#e8202a"]}}
             }},
            {"data": {"values": [{}]}, "mark": {"type": "text", "fontSize": 10.5, "color": "#111", "align": "left"},
             "encoding": {"x": {"datum": -192, "type": "quantitative", "axis": {"title": "Cycles", "values": [0, 200, 400, 600, 800, 1000], "format": "d"}}, "y": {"datum": 1.105, "type": "quantitative", "axis": {"title": "SOH", "values": [0, 0.2, 0.4, 0.6, 0.8, 1.0], "format": ".1f"}}, "text": {"value": "(c)"}}}
          ]
        },
        {
          "layer": [
            {"transform": [{"filter": "datum.s == 'Voltage'"}],
             "mark": {"type": "line", "color": "#f29090", "strokeWidth": 1},
             "encoding": {
               "x": {"field": "cyc", "type": "quantitative", "axis": {"title": "Cycles", "values": [0, 200, 400, 600, 800, 1000], "format": "d"}},
               "y": {"field": "y", "type": "quantitative", "scale": {"domain": [-0.028, 0.2], "reverse": true, "nice": false, "zero": false},
                     "axis": {"orient": "right", "title": "Increase in polarization (V)", "values": [0, 0.05, 0.1, 0.15, 0.2], "format": ".2f", "grid": false, "labelFontSize": 7.5, "labelColor": "#ee3b3b", "titleColor": "#ee3b3b", "domainColor": "#ee3b3b", "tickColor": "#ee3b3b", "titlePadding": 2}}
             }},
            {"transform": [{"filter": "datum.s == 'Voltage'"}],
             "mark": {"type": "point", "shape": "square", "filled": true, "size": 36, "fill": "#ffffff", "stroke": "#e8202a", "strokeWidth": 1.5, "opacity": 1},
             "encoding": {
               "x": {"field": "cyc", "type": "quantitative", "axis": {"title": "Cycles", "values": [0, 200, 400, 600, 800, 1000], "format": "d"}},
               "y": {"field": "y", "type": "quantitative", "axis": {"orient": "right", "title": "Increase in polarization (V)", "values": [0, 0.05, 0.1, 0.15, 0.2], "format": ".2f", "grid": false, "labelFontSize": 7.5, "labelColor": "#ee3b3b", "titleColor": "#ee3b3b", "domainColor": "#ee3b3b", "tickColor": "#ee3b3b", "titlePadding": 2}}}}
          ]
        }
      ],
      "resolve": {"scale": {"y": "independent"}}
    },
    {
      "width": 194, "height": 131,
      "data": {"name": "ocv"},
      "layer": [
        {"data": {"values": [{}]}, "mark": {"type": "rule", "color": "#f25c66", "opacity": 0.85, "strokeWidth": 4.5},
         "encoding": {"x": {"datum": 100, "type": "quantitative", "axis": {"title": "Cycles", "values": [0, 200, 400, 600, 800, 1000], "format": "d"}}, "y": {"datum": 4.17, "type": "quantitative", "axis": {"title": "Voltage (V)", "values": [2.5, 3.0, 3.5, 4.0], "format": ".1f"}}, "y2": {"datum": 2.6}}},
        {"data": {"values": [{}]}, "mark": {"type": "point", "shape": "triangle-down", "filled": true, "size": 120, "color": "#f25c66", "opacity": 0.85},
         "encoding": {"x": {"datum": 100, "type": "quantitative", "axis": {"title": "Cycles", "values": [0, 200, 400, 600, 800, 1000], "format": "d"}}, "y": {"datum": 2.565, "type": "quantitative", "axis": {"title": "Voltage (V)", "values": [2.5, 3.0, 3.5, 4.0], "format": ".1f"}}}},
        {"data": {"values": [{}]}, "mark": {"type": "rule", "color": "#8c8ce0", "opacity": 1, "strokeWidth": 4.5},
         "encoding": {"x": {"datum": 400, "type": "quantitative", "axis": {"title": "Cycles", "values": [0, 200, 400, 600, 800, 1000], "format": "d"}}, "y": {"datum": 3.28, "type": "quantitative", "axis": {"title": "Voltage (V)", "values": [2.5, 3.0, 3.5, 4.0], "format": ".1f"}}, "y2": {"datum": 4.1}}},
        {"data": {"values": [{}]}, "mark": {"type": "point", "shape": "triangle-up", "filled": true, "size": 120, "color": "#8c8ce0", "opacity": 1},
         "encoding": {"x": {"datum": 400, "type": "quantitative", "axis": {"title": "Cycles", "values": [0, 200, 400, 600, 800, 1000], "format": "d"}}, "y": {"datum": 4.14, "type": "quantitative", "axis": {"title": "Voltage (V)", "values": [2.5, 3.0, 3.5, 4.0], "format": ".1f"}}}},
        {"mark": {"type": "line", "strokeWidth": 1},
         "encoding": {
           "x": {"field": "cyc", "type": "quantitative", "scale": {"domain": [-62, 1028], "nice": false, "zero": false}, "axis": {"title": "Cycles", "values": [0, 200, 400, 600, 800, 1000], "format": "d"}},
           "y": {"field": "v", "type": "quantitative", "scale": {"domain": [2.5, 4.28], "nice": false, "zero": false}, "axis": {"title": "Voltage (V)", "values": [2.5, 3.0, 3.5, 4.0], "format": ".1f"}},
           "detail": {"field": "s"},
           "stroke": {"field": "s", "type": "nominal", "scale": {"domain": ["Charge cte-OCV", "Discharge cte-OCV"], "range": ["#1e1e82", "#e8202a"]},
             "legend": {"orient": "none", "legendX": 101, "legendY": 91, "title": null, "labelFontSize": 9.5, "labelColor": "#111", "symbolStrokeWidth": 1.2, "symbolSize": 100, "padding": 0, "rowPadding": -2, "labelOffset": 5}}
         }},
        {"transform": [{"filter": "datum.s == 'Charge cte-OCV'"}],
         "mark": {"type": "point", "shape": "circle", "filled": true, "size": 34, "color": "#1e1e82", "opacity": 1},
         "encoding": {
           "x": {"field": "cyc", "type": "quantitative", "axis": {"title": "Cycles", "values": [0, 200, 400, 600, 800, 1000], "format": "d"}},
           "y": {"field": "v", "type": "quantitative", "axis": {"title": "Voltage (V)", "values": [2.5, 3.0, 3.5, 4.0], "format": ".1f"}}}},
        {"transform": [{"filter": "datum.s == 'Discharge cte-OCV'"}],
         "mark": {"type": "point", "shape": "square", "filled": true, "size": 36, "fill": "#ffffff", "stroke": "#e8202a", "strokeWidth": 1.5, "opacity": 1},
         "encoding": {
           "x": {"field": "cyc", "type": "quantitative", "axis": {"title": "Cycles", "values": [0, 200, 400, 600, 800, 1000], "format": "d"}},
           "y": {"field": "v", "type": "quantitative", "axis": {"title": "Voltage (V)", "values": [2.5, 3.0, 3.5, 4.0], "format": ".1f"}}}},
        {"transform": [{"filter": "false"}],
         "mark": {"type": "point", "filled": true},
         "encoding": {
           "shape": {"field": "s", "type": "nominal", "scale": {"domain": ["Charge cte-OCV", "Discharge cte-OCV"], "range": ["M-1.5,0H-0.62M0.62,0H1.5M0.62,0A0.62,0.62,0,1,1,-0.62,0A0.62,0.62,0,1,1,0.62,0Z", "M-1.5,0H-0.58M0.58,0H1.5M-0.58,-0.58H0.58V0.58H-0.58Z"]},
             "legend": {"orient": "none", "legendX": 101, "legendY": 91, "title": null, "labelFontSize": 9.5, "labelColor": "#111", "symbolStrokeWidth": 1.2, "symbolSize": 100, "padding": 0, "rowPadding": -2, "labelOffset": 5}},
           "fill": {"field": "s", "type": "nominal", "scale": {"domain": ["Charge cte-OCV", "Discharge cte-OCV"], "range": ["#1e1e82", "#ffffff"]}}
         }},
        {"data": {"values": [{}]}, "mark": {"type": "text", "fontSize": 10, "color": "#111"},
         "encoding": {"x": {"datum": 505, "type": "quantitative", "axis": {"title": "Cycles", "values": [0, 200, 400, 600, 800, 1000], "format": "d"}}, "y": {"datum": 3.74, "type": "quantitative", "axis": {"title": "Voltage (V)", "values": [2.5, 3.0, 3.5, 4.0], "format": ".1f"}}, "text": {"value": "Charge"}}},
        {"data": {"values": [{}]}, "mark": {"type": "text", "fontSize": 10, "color": "#111"},
         "encoding": {"x": {"datum": 228, "type": "quantitative", "axis": {"title": "Cycles", "values": [0, 200, 400, 600, 800, 1000], "format": "d"}}, "y": {"datum": 2.77, "type": "quantitative", "axis": {"title": "Voltage (V)", "values": [2.5, 3.0, 3.5, 4.0], "format": ".1f"}}, "text": {"value": "Discharge"}}},
        {"data": {"values": [{}]}, "mark": {"type": "text", "fontSize": 10.5, "color": "#111", "align": "left"},
         "encoding": {"x": {"datum": -230, "type": "quantitative", "axis": {"title": "Cycles", "values": [0, 200, 400, 600, 800, 1000], "format": "d"}}, "y": {"datum": 4.158, "type": "quantitative", "axis": {"title": "Voltage (V)", "values": [2.5, 3.0, 3.5, 4.0], "format": ".1f"}}, "text": {"value": "(d)"}}}
      ]
    }
  ],
  "config": {
    "font": "Liberation Sans",
    "background": "#ffffff",
    "view": {"stroke": "#333333", "strokeWidth": 1},
    "axis": {"labelFontSize": 8, "titleFontSize": 9.5, "titleFontWeight": "normal", "labelColor": "#222222", "titleColor": "#222222", "domainColor": "#333333", "tickColor": "#333333", "tickSize": 3, "gridColor": "#e4e4e4", "labelPadding": 1, "titlePadding": 4, "labelFont": "Liberation Sans", "titleFont": "Liberation Sans"},
    "legend": {"labelFont": "Liberation Sans"}
  }
}
